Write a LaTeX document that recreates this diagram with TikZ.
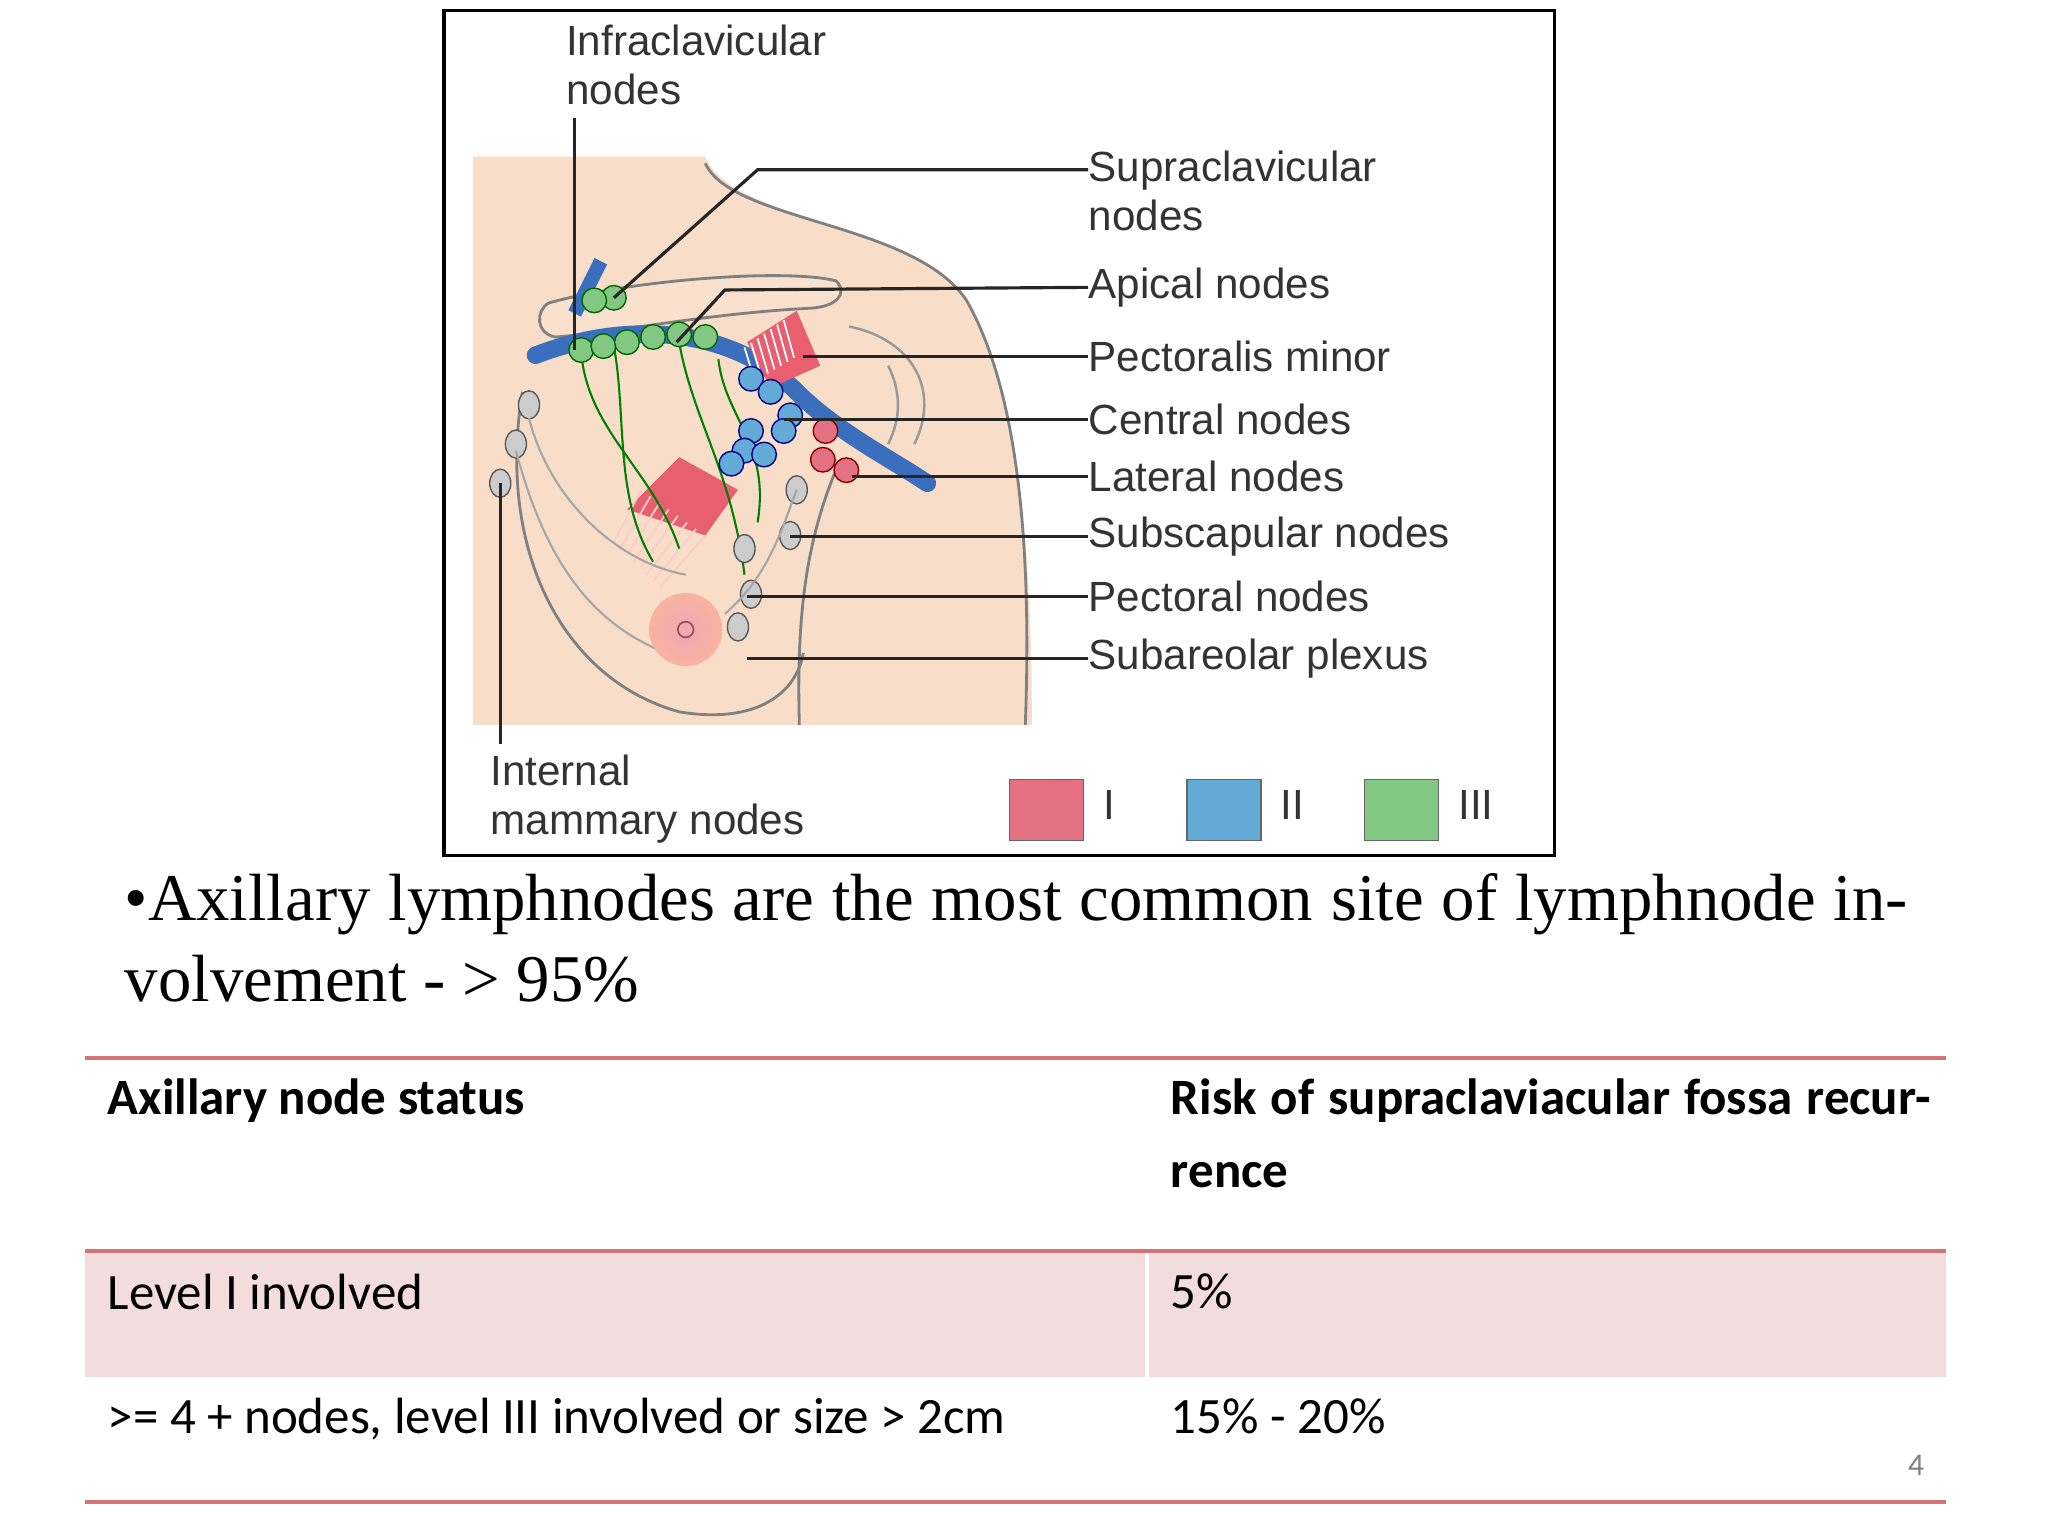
\documentclass[tikz,border=0pt]{standalone}
\usetikzlibrary{shapes.geometric}
\usepackage{fontspec}
\setmainfont{Liberation Serif}
\newfontfamily\lab{Liberation Sans}
\newfontfamily\calfont{Carlito}
\definecolor{peach}{RGB}{248,222,200}
\definecolor{lred}{RGB}{200,80,80}
\definecolor{rowpink}{RGB}{242,220,222}
\definecolor{lpink}{RGB}{228,112,132}
\definecolor{lblue}{RGB}{100,170,215}
\definecolor{lgreen}{RGB}{130,200,130}
\definecolor{vein}{RGB}{60,110,190}
\begin{document}
\begin{tikzpicture}[x=0.01306cm,y=-0.01306cm,
  lbl/.style={anchor=west,font=\lab\fontsize{12}{14}\selectfont,text=black!80,align=left,inner sep=0pt},
  lead/.style={draw=black!85,line width=0.9pt},
  tbl/.style={anchor=north west,font=\calfont\fontsize{14.5}{21}\selectfont,inner sep=0pt},
  rule/.style={draw=lred!80,line width=1.2pt},
  gn/.style={circle,fill=lgreen,draw=green!40!black,inner sep=0pt,minimum size=7pt},
  bn/.style={circle,fill=lblue,draw=blue!50!black,inner sep=0pt,minimum size=7pt},
  pn/.style={circle,fill=lpink,draw=red!50!black,inner sep=0pt,minimum size=7pt},
  yn/.style={ellipse,fill=gray!40,draw=gray!70!black,inner sep=0pt,minimum width=6pt,minimum height=8pt}]
\useasboundingbox (0,0) rectangle (1568,1176);
\fill[white] (0,0) rectangle (1568,1176);
% anatomy
\fill[peach] (362,120) -- (540,120) .. controls (560,170) and (700,170) .. (740,230) .. controls (780,300) and (790,420) .. (790,555) -- (362,555) -- cycle;
\draw[black!50,line width=0.8pt] (540,125) .. controls (560,170) and (700,170) .. (740,230) .. controls (780,300) and (790,420) .. (785,555);
\draw[black!50,line width=0.8pt] (640,360) .. controls (615,420) and (610,480) .. (612,555);
\draw[black!50,line width=0.8pt] (400,300) .. controls (380,420) and (430,520) .. (520,545) .. controls (580,555) and (610,530) .. (615,500);
\draw[black!50,fill=peach!90!white,line width=0.8pt] (420,232) .. controls (480,215) and (600,205) .. (640,215) .. controls (650,225) and (640,235) .. (620,236) .. controls (540,240) and (470,255) .. (425,258) .. controls (410,255) and (410,238) .. (420,232);
\draw[black!40,line width=0.7pt] (650,250) .. controls (700,260) and (720,300) .. (700,340);
\draw[black!40,line width=0.7pt] (680,280) .. controls (690,300) and (690,320) .. (680,340);
\draw[vein,line width=5pt,line cap=round] (410,272) .. controls (480,245) and (560,250) .. (610,300) .. controls (640,330) and (680,350) .. (710,370);
\draw[vein,line width=4pt] (440,240) -- (460,200);
\fill[lpink!85!red] (572,262) -- (610,238) -- (628,280) -- (590,297) -- cycle;
\foreach \i in {0,...,6}{\draw[white,line width=0.5pt] (578+5*\i,292-3*\i) -- (570+5*\i,266-3.5*\i);}
\fill[lpink!85!red] (480,390) -- (520,350) -- (565,375) -- (540,410) -- cycle;
\foreach \i in {0,...,7}{\draw[white!80!red,line width=0.5pt] (540-7*\i,410-5*\i) -- (505-5*\i,450-5*\i);}
\draw[green!50!black,line width=0.6pt] (445,270) .. controls (450,330) and (500,360) .. (520,420);
\draw[green!50!black,line width=0.6pt] (470,265) .. controls (480,320) and (470,380) .. (500,430);
\draw[green!50!black,line width=0.6pt] (520,262) .. controls (530,320) and (560,360) .. (570,440);
\draw[green!50!black,line width=0.6pt] (550,275) .. controls (555,320) and (590,340) .. (580,400);
\foreach \p in {(445,268),(462,265),(480,262),(500,258),(520,256),(540,258),(470,228),(455,230)} \node[gn] at \p {};
\foreach \p in {(575,290),(590,300),(605,318),(600,330),(575,330),(570,345),(585,348),(560,355)} \node[bn] at \p {};
\foreach \p in {(632,330),(630,352),(648,360)} \node[pn] at \p {};
\foreach \p in {(405,310),(395,340),(383,370),(610,375),(605,410),(570,420),(575,455),(565,480)} \node[yn] at \p {};
\draw[black!35,line width=0.6pt] (525,440) .. controls (470,430) and (420,380) .. (405,320);
\draw[black!35,line width=0.6pt] (510,500) .. controls (460,480) and (420,440) .. (395,345);
\draw[black!35,line width=0.6pt] (555,470) .. controls (590,440) and (600,400) .. (610,375);
\shade[inner color=lpink!60!white,outer color=peach!80!red] (525,482) circle (28);
\draw[lpink!70!black,line width=0.5pt] (525,482) circle (6);
% frame
\draw[black,line width=1pt] (340,8) rectangle (1190,655);
% labels
\node[lbl] (inf) at (433,50) {Infraclavicular\\nodes};
\node[lbl] (sup) at (833,146) {Supraclavicular\\nodes};
\node[lbl] (api) at (833,220) {Apical nodes};
\node[lbl] (pec) at (833,273) {Pectoralis minor};
\node[lbl] (cen) at (833,321) {Central nodes};
\node[lbl] (lat) at (833,365) {Lateral nodes};
\node[lbl] (sub) at (833,411) {Subscapular nodes};
\node[lbl] (pcn) at (833,457) {Pectoral nodes};
\node[lbl] (sar) at (833,504) {Subareolar plexus};
\node[lbl] (int) at (375,612) {Internal\\mammary nodes};
\coordinate (c1) at (580,130); \coordinate (c1e) at (470,228);
\coordinate (c2) at (555,222); \coordinate (c2e) at (518,262);
\draw[lead] (sup.west |- 0,130) -- (c1) -- (c1e);
\draw[lead] (440,90) -- (440,268);
\draw[lead] (api.west) -- (c2) -- (c2e);
\draw[lead] (pec.west) -- (615,273);
\draw[lead] (cen.west) -- (600,321);
\draw[lead] (lat.west) -- (652,365);
\draw[lead] (sub.west) -- (605,411);
\draw[lead] (pcn.west) -- (572,457);
\draw[lead] (sar.west) -- (572,504);
\draw[lead] (383,370) -- (383,570);
% legend
\node[draw=black!60,fill=lpink,minimum width=0.74cm,minimum height=0.61cm,inner sep=0pt] (l1) at (801,620) {};
\node[draw=black!60,fill=lblue,minimum width=0.74cm,minimum height=0.61cm,inner sep=0pt] (l2) at (937,620) {};
\node[draw=black!60,fill=lgreen,minimum width=0.74cm,minimum height=0.61cm,inner sep=0pt] (l3) at (1073,620) {};
\node[lbl] at (844,616) {I};
\node[lbl] at (980,616) {II};
\node[lbl] at (1116,616) {III};
% bullet text
\node[anchor=north west,inner sep=0pt,text width=17.83cm,align=justify,font=\fontsize{19}{23}\selectfont] (bt) at (95,668) {\textbullet Axillary lymphnodes are the most common site of lymphnode involvement - > 95\%};
% table
\fill[rowpink] (65,958) rectangle (1490,1054);
\draw[white,line width=1pt] (878,958) -- (878,1054);
\draw[rule] (65,810) -- (1490,810);
\draw[rule] (65,958) -- (1490,958);
\draw[rule] (65,1150) -- (1490,1150);
\node[tbl,font=\calfont\bfseries\fontsize{14.5}{21}\selectfont] (h1) at (82,825) {Axillary node status};
\node[tbl,font=\calfont\bfseries\fontsize{14.5}{21}\selectfont,text width=7.6cm,align=justify] (h2) at (896,825) {Risk of supraclaviacular fossa recurrence};
\node[tbl] (r1) at (82,975) {Level I involved};
\node[tbl] (r1b) at (896,975) {5\%};
\node[tbl] (r2) at (82,1070) {>= 4 + nodes, level III involved or size > 2cm};
\node[tbl] (r2b) at (896,1070) {15\% - 20\%};
\node[font=\calfont\fontsize{9}{10}\selectfont,text=gray] (pg) at (1467,1122) {4};
\end{tikzpicture}
\end{document}
